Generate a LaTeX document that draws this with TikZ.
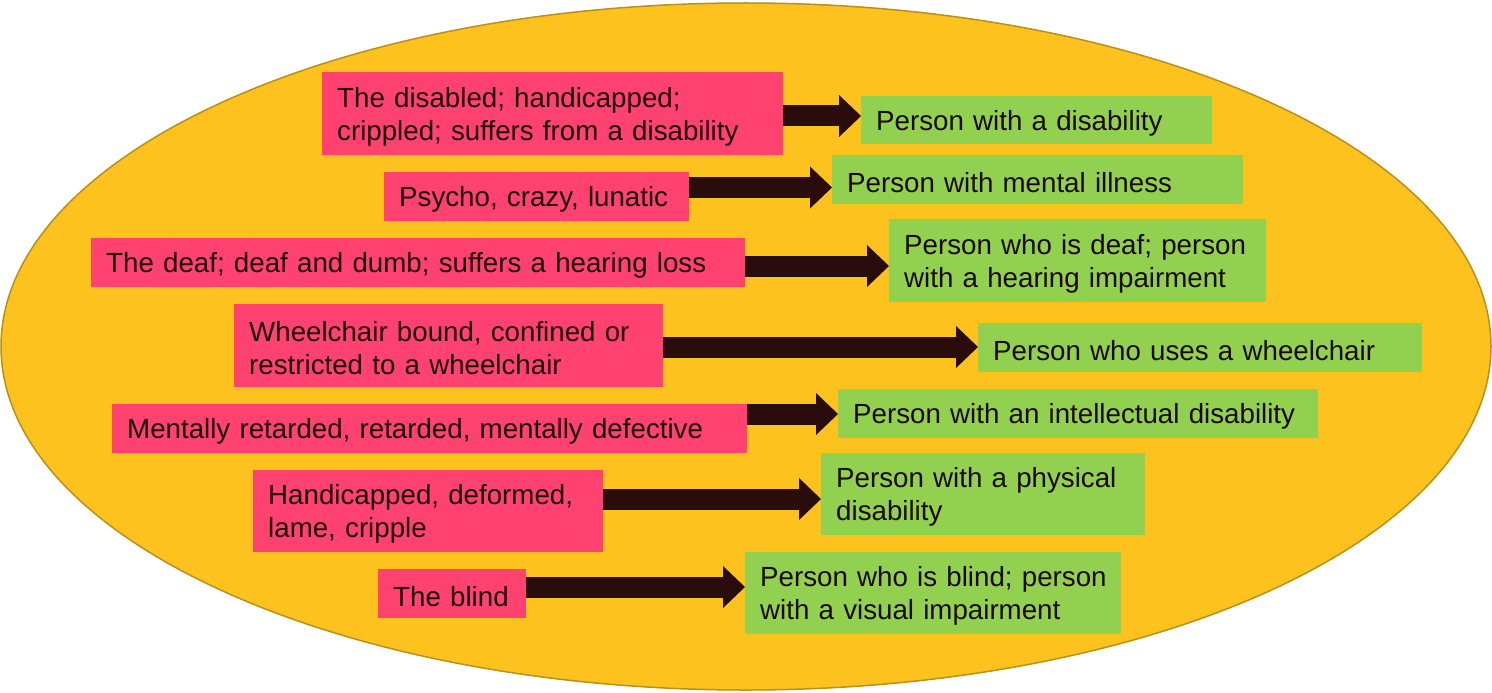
\documentclass[tikz,border=0pt]{standalone}
\usepackage{fontspec}
\setmainfont{Liberation Sans}
\usetikzlibrary{arrows.meta}
\definecolor{gold}{HTML}{FDC21E}
\definecolor{goldline}{HTML}{B8901A}
\definecolor{redfill}{HTML}{FF4270}
\definecolor{greenfill}{HTML}{92D050}
\definecolor{arrowfill}{HTML}{2A0C0C}
\definecolor{textcol}{HTML}{1C0808}
\tikzset{
  box/.style={anchor=north west, rectangle, inner xsep=15bp, inner ysep=0bp,
    align=left, text=textcol,
    font=\fontsize{27.7bp}{33bp}\selectfont,
    execute at begin node={\rule{0pt}{25.5bp}}},
  redbox/.style={box, fill=redfill},
  greenbox/.style={box, fill=greenfill},
  fatarrow/.style={draw=arrowfill, line width=21bp,
    -{Triangle[length=22bp,width=42bp,line width=0pt]}},
}
\begin{document}
\begin{tikzpicture}[x=1bp,y=-1bp]
\useasboundingbox (0,0) rectangle (1492,693);
\fill[white] (0,0) rectangle (1492,693);
\draw[fill=gold, draw=goldline, line width=1.5bp] (746,346.5) ellipse [x radius=745, y radius=343.5];

% red boxes
\node[redbox, minimum width=461bp, minimum height=83bp, text width=431bp] (r1) at (322,72) {\mbox{The disabled; handicapped;}\\\mbox{crippled; suffers from a disability}};
\node[redbox, minimum width=305bp, minimum height=49bp, text width=275bp] (r2) at (384,172) {\mbox{Psycho, crazy, lunatic}};
\node[redbox, minimum width=654bp, minimum height=49bp, text width=624bp] (r3) at (91,238) {\mbox{The deaf; deaf and dumb; suffers a hearing loss}};
\node[redbox, minimum width=429bp, minimum height=83bp, text width=399bp] (r4) at (234,304) {\mbox{Wheelchair bound, confined or}\\\mbox{restricted to a wheelchair}};
\node[redbox, minimum width=635bp, minimum height=49bp, text width=605bp] (r5) at (112,404) {\mbox{Mentally retarded, retarded, mentally defective}};
\node[redbox, minimum width=350bp, minimum height=82bp, text width=320bp] (r6) at (253,470) {\mbox{Handicapped, deformed,}\\\mbox{lame, cripple}};
\node[redbox, minimum width=148bp, minimum height=49bp, text width=118bp] (r7) at (378,569) {\mbox{The blind}};

% green boxes
\node[greenbox, minimum width=351bp, minimum height=48bp, text width=321bp] (g1) at (861,96) {\mbox{Person with a disability}};
\node[greenbox, minimum width=411bp, minimum height=49bp, text width=381bp] (g2) at (832,155) {\mbox{Person with mental illness}};
\node[greenbox, minimum width=377bp, minimum height=83bp, text width=347bp] (g3) at (889,219) {\mbox{Person who is deaf; person}\\\mbox{with a hearing impairment}};
\node[greenbox, minimum width=444bp, minimum height=49bp, text width=414bp] (g4) at (978,323) {\mbox{Person who uses a wheelchair}};
\node[greenbox, minimum width=480bp, minimum height=49bp, text width=450bp] (g5) at (838,389) {\mbox{Person with an intellectual disability}};
\node[greenbox, minimum width=324bp, minimum height=82bp, text width=294bp] (g6) at (821,453) {\mbox{Person with a physical}\\\mbox{disability}};
\node[greenbox, minimum width=376bp, minimum height=82bp, text width=346bp] (g7) at (745,552) {\mbox{Person who is blind; person}\\\mbox{with a visual impairment}};

% arrows
\coordinate (y1) at (0,116);
\coordinate (y2) at (0,187.5);
\coordinate (y3) at (0,266);
\coordinate (y4) at (0,347);
\coordinate (y5) at (0,414);
\coordinate (y6) at (0,499);
\coordinate (y7) at (0,587);
\draw[fatarrow] (r1.east |- y1) -- (g1.west |- y1);
\draw[fatarrow] (r2.east |- y2) -- (g2.west |- y2);
\draw[fatarrow] (r3.east |- y3) -- (g3.west |- y3);
\draw[fatarrow] (r4.east |- y4) -- (g4.west |- y4);
\draw[fatarrow] (r5.east |- y5) -- (g5.west |- y5);
\draw[fatarrow] (r6.east |- y6) -- (g6.west |- y6);
\draw[fatarrow] (r7.east |- y7) -- (g7.west |- y7);
\end{tikzpicture}
\end{document}
